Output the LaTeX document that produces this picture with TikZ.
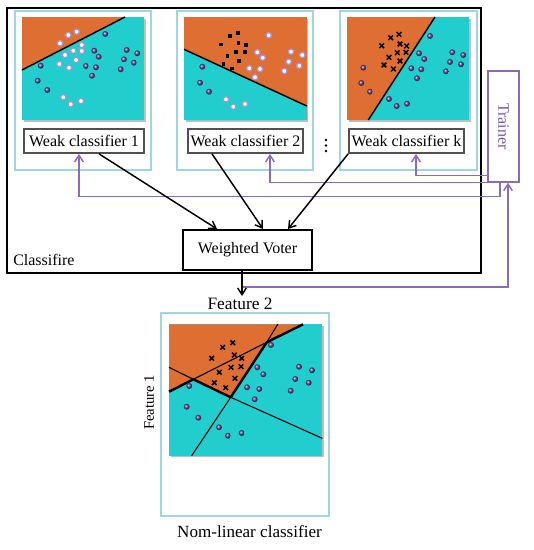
\documentclass[tikz,border=0pt]{standalone}
\usepackage{fontspec}
\setmainfont{Liberation Serif}
\usetikzlibrary{arrows.meta,calc}
\definecolor{orng}{HTML}{DF6E33}
\definecolor{cyn}{HTML}{22CDCD}
\definecolor{purp}{HTML}{8A6BB5}
\definecolor{purptext}{HTML}{7B55B0}
\definecolor{lblue}{HTML}{9FD6E2}
\definecolor{dkdot}{HTML}{5A3A90}
\definecolor{ltring}{HTML}{A893D6}
\definecolor{gbox}{HTML}{505050}
\begin{document}
\begin{tikzpicture}[x=0.75pt,y=-0.75pt,
  panel/.style={draw=lblue,line width=0.8pt},
  plotshadow/.style={fill=black!25},
  dline/.style={draw=black,line width=1.1pt},
  thickb/.style={draw=black,line width=1.8pt,line join=round},
  thinb/.style={draw=black,line width=0.8pt},
  wcbox/.style={draw=gbox,line width=1.3pt,fill=white,inner sep=0pt,minimum height=18pt,font=\fontsize{12}{14}\selectfont},
  voterbox/.style={draw=black,line width=1.5pt,fill=white,inner sep=0pt,minimum width=96.75pt,minimum height=30pt,font=\fontsize{12}{14}\selectfont},
  tbox/.style={draw=purp,line width=1.1pt,fill=white,inner sep=0pt,minimum width=23.25pt,minimum height=83.25pt},
  blk/.style={draw=black,line width=1.1pt,-{Straight Barb[length=5pt,width=6.5pt]}},
  pur/.style={draw=purp,line width=1.1pt,-{Straight Barb[length=5pt,width=6.5pt]}},
  lbl/.style={inner sep=0pt,font=\fontsize{12}{14}\selectfont},
  ltdot/.style={fill=white,draw=ltring,line width=0.9pt},
  xm/.style={draw=black,line width=1.1pt},
]
\useasboundingbox (0,0) rectangle (533,550);

% outer classifier frame
\draw[black,line width=1.9pt] (7,8) rectangle (481,273);
\node[lbl,anchor=west] (clsname) at (13,260) {Classifire};

% light blue panels
\draw[panel] (15,11) rectangle (151,170);
\draw[panel] (177,11) rectangle (313,170);
\draw[panel] (340,11) rectangle (477,170);
\draw[panel] (161,313) rectangle (329,516);

% ---------- plot 1
\fill[plotshadow] (23.5,18.5) rectangle (145.5,121.5);
\fill[cyn] (22,17) rectangle (144,120);
\fill[orng] (22,17) -- (125,17) -- (22,70) -- cycle;
\draw[dline] (22,70) -- (125,17);
\foreach \x/\y in {105.3/34, 94.3/50.7, 98.7/56.7, 126.7/50, 137.3/53.3, 124/59.3, 134/62.7, 40.7/65.7, 86/66, 96/67.3, 120.7/69.3, 92/75.7, 37.7/80.7, 47.3/90}
  \shade[ball color=dkdot] (\x,\y) circle[radius=2.2pt];
\foreach \x/\y in {68.3/35, 76.7/31.7, 60/43.3, 81.7/45, 73.3/50.7, 81.7/51, 65/55, 76/60, 59.3/64, 69/67.7, 63.3/97.3, 70.7/104.3, 81/101}
  \draw[ltdot] (\x,\y) circle[radius=2pt];

% ---------- plot 2
\fill[plotshadow] (185.5,18.5) rectangle (308.2,121.5);
\fill[orng] (184,17) rectangle (306.7,120);
\fill[cyn] (184,49.3) -- (306.7,106) -- (306.7,120) -- (184,120) -- cycle;
\draw[dline] (184,49.3) -- (306.7,106);
\foreach \x/\y in {230/36, 237.7/32.7, 221/44.3, 238.3/42.7, 246/45, 236/51.7, 245/51.7, 227.3/56, 239/60.7, 223.3/64, 231.7/68.3}
  \fill[black] ([shift={(-1.8,-1.8)}]\x,\y) rectangle ([shift={(1.8,1.8)}]\x,\y);
\foreach \x/\y in {202.3/66.7, 200/82.7, 209/91.7}
  \shade[ball color=dkdot] (\x,\y) circle[radius=2.2pt];
\foreach \x/\y in {268.7/35.3, 257.3/52.3, 262.7/57.7, 249.3/68.3, 260/69, 255/77.3, 291/51.7, 302.3/55, 288.7/61.7, 299.3/65.7, 284.3/71, 226/99.3, 233.3/106.7, 245/104}
  \draw[ltdot] (\x,\y) circle[radius=2pt];

% ---------- plot 3
\fill[plotshadow] (348.5,18.5) rectangle (470.8,121.5);
\fill[cyn] (347,17) rectangle (469.3,120);
\fill[orng] (347,17) -- (435,17) -- (368.3,120) -- (347,120) -- cycle;
\draw[dline] (435,17) -- (368.3,120);
\foreach \x/\y in {390.7/37.7, 399/34.3, 381.7/45.7, 400/44, 406.7/46, 389/57.3, 397.3/52.7, 406/52.3, 384/65, 393.3/69, 400/61}
  \draw[xm] ([shift={(-2.3,-2.3)}]\x,\y) -- ([shift={(2.3,2.3)}]\x,\y)
            ([shift={(-2.3,2.3)}]\x,\y) -- ([shift={(2.3,-2.3)}]\x,\y);
\foreach \x/\y in {430/36, 419/53.3, 424.3/59, 411.3/68.3, 421.3/69.3, 417/78.3, 452.3/52.3, 463.3/55, 450/62, 461/64.3, 446/71.3, 363.3/67.7, 361.3/83, 370/91.7, 389/99, 396.7/106, 407/103.7}
  \shade[ball color=dkdot] (\x,\y) circle[radius=2.2pt];

% ---------- bottom plot
\fill[plotshadow] (170.5,325.8) rectangle (323.8,457.2);
\fill[cyn] (169,324.3) rectangle (322.3,455.7);
\fill[orng] (169,324.3) -- (303,324.3) -- (266.7,342.3) -- (230.7,397.3) -- (193.3,379.3) -- (169,391.7) -- cycle;
\draw[thinb] (169,367.3) -- (193.3,379.3) -- (266.7,342.3) -- (277.7,324.3);
\draw[thinb] (230.7,397.3) -- (191.7,455.7);
\draw[thinb] (230.7,397.3) -- (322.3,438.3);
\draw[thickb] (169,391.7) -- (193.3,379.3) -- (230.7,397.3) -- (266.7,342.3) -- (303,324.3);
\foreach \x/\y in {222.7/347.3, 232.7/342.7, 211.7/358.3, 234.3/355, 241.7/358.3, 219.3/372.3, 231/367.3, 241/366.7, 214.3/382.7, 225.7/387.7, 235/378.3}
  \draw[xm] ([shift={(-2.3,-2.3)}]\x,\y) -- ([shift={(2.3,2.3)}]\x,\y)
            ([shift={(-2.3,2.3)}]\x,\y) -- ([shift={(2.3,-2.3)}]\x,\y);
\foreach \x/\y in {271/345, 257.3/367.3, 263.3/374.3, 247/387.3, 259.3/389, 254.7/399.3, 299/366.7, 312/370.3, 295.3/379, 308.7/382.7, 290.7/390.7, 189.3/386, 186.7/406.7, 198.3/417.7, 219/427.3, 228/435.7, 241.7/433}
  \shade[ball color=dkdot] (\x,\y) circle[radius=2.2pt];

% ---------- nodes
\node[wcbox,minimum width=90pt] (wc1) at (84,141) {Weak classifier 1};
\node[wcbox,minimum width=86.25pt] (wc2) at (245.5,141) {Weak classifier 2};
\node[wcbox,minimum width=86.25pt] (wck) at (406.5,141) {Weak classifier k};
\foreach \y in {140,145.5,151}
  \fill[black] (326,\y) circle[radius=1.1pt];
\node[voterbox] (voter) at (247.5,250) {Weighted Voter};
\node[tbox] (trainer) at (503.5,126.5) {};
\node[lbl,rotate=-90,text=purptext] (trainertxt) at (trainer.center) {Trainer};
\node[inner sep=0pt,font=\fontsize{13}{15}\selectfont] (f2) at (240,303.5) {Feature 2};
\node[inner sep=0pt,font=\fontsize{11}{13}\selectfont,rotate=90] (f1) at (149,402.5) {Feature 1};
\node[inner sep=0pt,font=\fontsize{12.8}{15}\selectfont] (nl) at (249.5,532) {Nom-linear classifier};

\coordinate (outend) at (242,296);
\coordinate (tap) at (242,287);

% ---------- purple feedback lines
\draw[pur] ($(trainer.south west)+(0,-7)$) -| ($(wck.south)+(9.5,0)$);
\draw[pur] (trainer.south west) -| ($(wc2.south)+(24.5,0)$);
\draw[pur] ($(trainer.south)+(-3.5,0)$) -- ++(0,14) -| ($(wc1.south)+(-5,0)$);
\draw[pur] (tap) -| ($(trainer.south)+(4.5,0)$);

% ---------- black arrows
\draw[blk] ($(wc1.south)+(15,0)$) -- ($(voter.north)+(-30.5,0)$);
\draw[blk] ($(wc2.south)+(-33.5,0)$) -- ($(voter.north)+(15.5,0)$);
\draw[blk] (wck.south west) -- ($(voter.north)+(40.5,0)$);
\draw[blk] ($(voter.south)+(-5.5,0)$) -- (outend);
\end{tikzpicture}
\end{document}
